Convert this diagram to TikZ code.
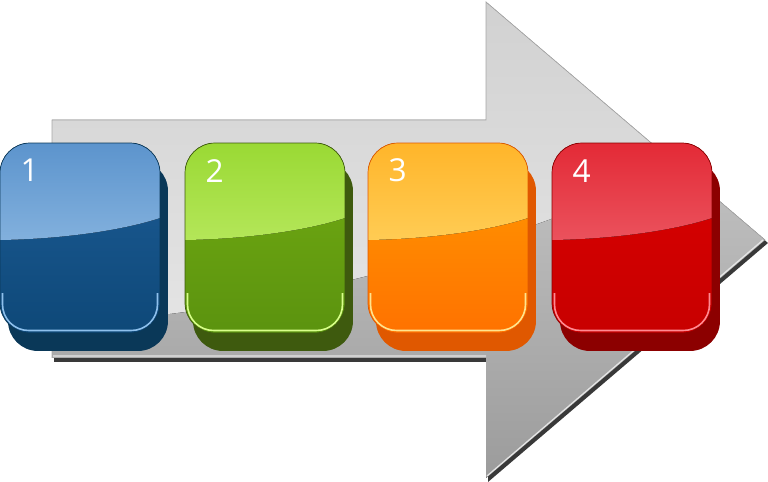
\documentclass[tikz,border=0pt]{standalone}
\usepackage{fontspec}
\setmainfont{Open Sans}
\definecolor{bluegloss1}{HTML}{5C94CD}
\definecolor{bluegloss2}{HTML}{A6CBEC}
\definecolor{bluebase1}{HTML}{1D5D97}
\definecolor{bluebase2}{HTML}{0E4878}
\definecolor{blueside}{HTML}{0A3858}
\definecolor{bluerim}{HTML}{8EC0EC}
\definecolor{greengloss1}{HTML}{9AD934}
\definecolor{greengloss2}{HTML}{CDF37C}
\definecolor{greenbase1}{HTML}{73AC12}
\definecolor{greenbase2}{HTML}{5B930F}
\definecolor{greenside}{HTML}{3E5A0E}
\definecolor{greenrim}{HTML}{D8FF8A}
\definecolor{orangegloss1}{HTML}{FFB52A}
\definecolor{orangegloss2}{HTML}{FFE27C}
\definecolor{orangebase1}{HTML}{FF9C00}
\definecolor{orangebase2}{HTML}{FF7200}
\definecolor{orangeside}{HTML}{E05800}
\definecolor{orangerim}{HTML}{FFE48E}
\definecolor{redgloss1}{HTML}{E32A36}
\definecolor{redgloss2}{HTML}{F27882}
\definecolor{redbase1}{HTML}{DA0000}
\definecolor{redbase2}{HTML}{C80000}
\definecolor{redside}{HTML}{8C0000}
\definecolor{redrim}{HTML}{FF8A92}
\begin{document}
\begin{tikzpicture}[x=0.02cm,y=-0.02cm,
    stepside/.style={rounded corners=0.6cm,minimum width=3.2cm,minimum height=3.8cm,inner sep=0pt,fill=#1},
    stepface/.style n args={6}{rounded corners=0.6cm,minimum width=3.2cm,minimum height=3.8cm,inner sep=0pt,
        draw=#6,line width=0.4pt,top color=#3,bottom color=#4,
        path picture={
            \fill[sharp corners,top color=#1,bottom color=#2] (path picture bounding box.north west)
                -- ([shift={(0,97)}]path picture bounding box.north west)
                .. controls ([shift={(60,96)}]path picture bounding box.north west) and ([shift={(-40,88)}]path picture bounding box.north east)
                .. ([shift={(0,75)}]path picture bounding box.north east)
                -- (path picture bounding box.north east) -- cycle;
            \draw[#5,line width=0.9pt,rounded corners=0.52cm] ([shift={(2.5,150)}]path picture bounding box.north west)
                -- ([shift={(2.5,-2.5)}]path picture bounding box.south west)
                -- ([shift={(-2.5,-2.5)}]path picture bounding box.south east)
                -- ([shift={(-2.5,150)}]path picture bounding box.north east);}},
    stepnum/.style={text=white,font=\fontsize{18}{20}\selectfont,inner sep=0pt}]
    \useasboundingbox (0,0) rectangle (768,482);

    \fill[gray!45!black] (54,124) -- (488,124) -- (488,6) -- (768,243) -- (488,482) -- (488,362) -- (54,362) -- cycle;
    \fill[top color=black!18,bottom color=black!7] (52,120) -- (486,120) -- (486,2) -- (765,240) -- (486,478) -- (486,358) -- (52,358) -- cycle;
    \begin{scope}
        \clip (52,120) -- (486,120) -- (486,2) -- (765,240) -- (486,478) -- (486,358) -- (52,358) -- cycle;
        \fill[top color=black!24,bottom color=black!40] (40,324) .. controls (260,318) and (480,255) .. (700,160) -- (800,160) -- (800,500) -- (40,500) -- cycle;
    \end{scope}
    \draw[black!35,line width=0.4pt] (52,358) -- (52,120) -- (486,120) -- (486,2) -- (765,240);
    \draw[white!80!gray,line width=0.7pt] (53,356) -- (486,356) (487,476) -- (763,240);

    \node [stepside=blueside] (side1) at (88,256) {};
    \node [stepside=greenside] (side2) at (273,256) {};
    \node [stepside=orangeside] (side3) at (456,256) {};
    \node [stepside=redside] (side4) at (640,256) {};

    \node [stepface={bluegloss1}{bluegloss2}{bluebase1}{bluebase2}{bluerim}{blueside}] (step1) at (80,238) {};
    \node [stepface={greengloss1}{greengloss2}{greenbase1}{greenbase2}{greenrim}{greenside}] (step2) at (265,238) {};
    \node [stepface={orangegloss1}{orangegloss2}{orangebase1}{orangebase2}{orangerim}{orangeside}] (step3) at (448,238) {};
    \node [stepface={redgloss1}{redgloss2}{redbase1}{redbase2}{redrim}{redside}] (step4) at (632,238) {};

    \node [stepnum] (num1) at ([shift={(30,28)}]step1.north west) {1};
    \node [stepnum] (num2) at ([shift={(30,28)}]step2.north west) {2};
    \node [stepnum] (num3) at ([shift={(30,28)}]step3.north west) {3};
    \node [stepnum] (num4) at ([shift={(30,28)}]step4.north west) {4};
\end{tikzpicture}
\end{document}
